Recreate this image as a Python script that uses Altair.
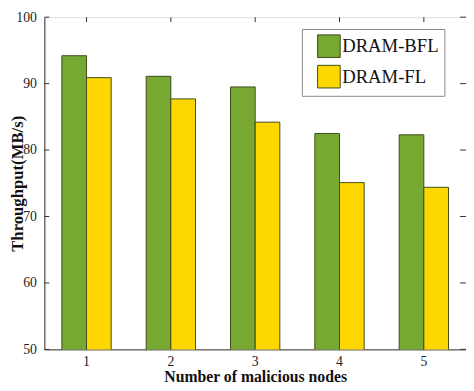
import altair as alt
import pandas as pd

nodes = ["1", "2", "3", "4", "5"]
series = ["DRAM-BFL", "DRAM-FL"]
bfl = [94.2, 91.1, 89.5, 82.5, 82.3]
fl = [90.9, 87.7, 84.2, 75.1, 74.4]
y_ticks = [50, 60, 70, 80, 90, 100]
colors = ["#76A832", "#FFD700"]

W, H = 429, 338

rows = []
for i, n in enumerate(nodes):
    rows.append({"n": n, "s": series[0], "v": bfl[i]})
    rows.append({"n": n, "s": series[1], "v": fl[i]})
df = pd.DataFrame(rows)
tick_df = pd.DataFrame({"t": y_ticks})
top_df = pd.DataFrame({"n": nodes})

FONT = "Liberation Serif"

xscale = alt.Scale(domain=nodes, paddingInner=0, paddingOuter=0)
yscale = alt.Scale(domain=[50, 100], nice=False, zero=False)

bars = alt.Chart(df).mark_bar(stroke="#3d4a1c", strokeWidth=1, clip=True).encode(
    x=alt.X("n:N", scale=xscale, sort=nodes,
            axis=alt.Axis(title="Number of malicious nodes", labelAngle=0, ticks=False,
                          labelFont=FONT, labelFontSize=14, labelColor="#222", labelPadding=5,
                          titleFont=FONT, titleFontSize=16, titleFontWeight="bold",
                          titleColor="#111", titlePadding=1, domainColor="#333")),
    xOffset=alt.XOffset("s:N", sort=series, scale=alt.Scale(paddingOuter=0.71, paddingInner=0)),
    y=alt.Y("v:Q", scale=yscale,
            axis=alt.Axis(title="Throughput(MB/s)", values=y_ticks, ticks=False,
                          labelFont=FONT, labelFontSize=14, labelColor="#222", labelPadding=8,
                          titleFont=FONT, titleFontSize=17, titleFontWeight="bold",
                          titleColor="#111", titleX=-35, titleY=H / 2, titleBaseline="top",
                          titleAngle=-90, domainColor="#333", grid=False)),
    color=alt.Color("s:N", sort=series, scale=alt.Scale(domain=series, range=colors),
                    legend=alt.Legend(title=None, orient="none", legendX=262, legendY=12,
                                      direction="vertical", symbolType="square",
                                      symbolSize=530, symbolStrokeColor="#3d4a1c",
                                      symbolStrokeWidth=1, symbolOffset=10,
                                      labelFont=FONT, labelFontSize=19, labelColor="#111",
                                      labelOffset=1, rowPadding=2, padding=5,
                                      strokeColor="#888", fillColor="white")),
)

left_ticks = alt.Chart(tick_df).mark_rule(color="#333").encode(
    y=alt.Y("t:Q", scale=yscale), x=alt.value(0), x2=alt.value(5))
right_ticks = alt.Chart(tick_df).mark_rule(color="#333").encode(
    y=alt.Y("t:Q", scale=yscale), x=alt.value(W - 6), x2=alt.value(W))
top_ticks = alt.Chart(top_df).mark_rule(color="#333").encode(
    x=alt.X("n:N", scale=xscale, sort=nodes), y=alt.value(0), y2=alt.value(5))

chart = alt.layer(bars, left_ticks, right_ticks, top_ticks).properties(
    width=W, height=H,
    autosize=alt.AutoSizeParams(type="none"),
    padding={"left": 37, "top": 6, "right": 0, "bottom": 39},
).configure_view(stroke="#555", strokeWidth=1).configure(background="white")

chart.save("out.html", embed_options={"renderer": "svg", "actions": False})
